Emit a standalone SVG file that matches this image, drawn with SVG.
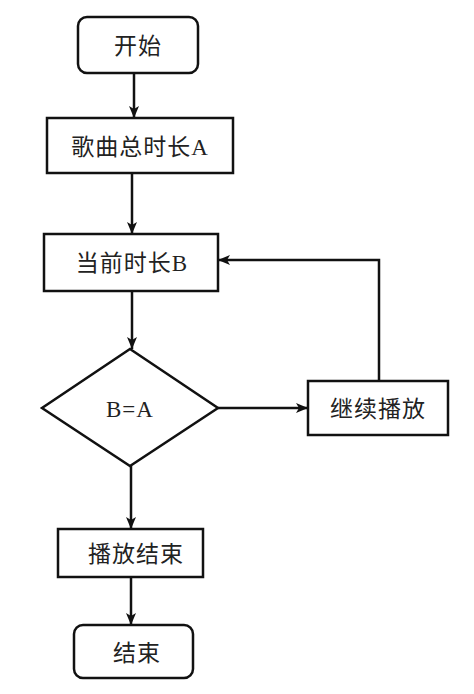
<svg xmlns="http://www.w3.org/2000/svg" width="474" height="694" viewBox="0 0 474 694">
<style>
.box{fill:#fff;stroke:#111;stroke-width:2.5}
.lbl{font-family:"Liberation Serif","Noto Sans CJK SC",serif;font-size:23px;fill:#222;text-anchor:middle;dominant-baseline:central;letter-spacing:1px}
.ln{fill:none;stroke:#111;stroke-width:2.5}
</style>
<defs>
<marker id="ah" viewBox="0 0 10 10" refX="10" refY="5" markerWidth="5" markerHeight="5" markerUnits="userSpaceOnUse" orient="auto" style="overflow:visible">
<path d="M0,0 L10,5 L0,10 L3,5 Z" fill="#111" transform="scale(1.2)" />
</marker>
<marker id="a" viewBox="0 0 12 12" refX="12" refY="6" markerWidth="12" markerHeight="12" markerUnits="userSpaceOnUse" orient="auto">
<path d="M0,1 L12,6 L0,11 L3,6 Z" fill="#111"/>
</marker>
</defs>
<g id="connectors">
<line class="ln" x1="134" y1="73" x2="134" y2="118" marker-end="url(#a)"/>
<line class="ln" x1="132" y1="173" x2="132" y2="234" marker-end="url(#a)"/>
<line class="ln" x1="132" y1="291" x2="132" y2="349" marker-end="url(#a)"/>
<line class="ln" x1="218" y1="408" x2="308" y2="408" marker-end="url(#a)"/>
<polyline class="ln" points="379,381 379,260 218,260" marker-end="url(#a)"/>
<line class="ln" x1="131" y1="466" x2="131" y2="529" marker-end="url(#a)"/>
<line class="ln" x1="131" y1="577" x2="131" y2="625" marker-end="url(#a)"/>
</g>
<g id="start">
<rect class="box" x="78" y="17" width="120" height="56" rx="9"/>
<text class="lbl" x="138" y="46">开始</text>
</g>
<g id="total">
<rect class="box" x="47" y="118" width="186" height="55"/>
<text class="lbl" x="140" y="147">歌曲总时长A</text>
</g>
<g id="current">
<rect class="box" x="44" y="234" width="174" height="57"/>
<text class="lbl" x="132" y="263">当前时长B</text>
</g>
<g id="decision">
<polygon class="box" points="130,349 218,408 130,466 42,408"/>
<text class="lbl" x="130" y="409">B=A</text>
</g>
<g id="continue">
<rect class="box" x="308" y="381" width="140" height="54"/>
<text class="lbl" x="378" y="409">继续播放</text>
</g>
<g id="finish">
<rect class="box" x="58" y="529" width="145" height="48"/>
<text class="lbl" x="136" y="554">播放结束</text>
</g>
<g id="end">
<rect class="box" x="74" y="625" width="119" height="53" rx="9"/>
<text class="lbl" x="137" y="653">结束</text>
</g>
</svg>
